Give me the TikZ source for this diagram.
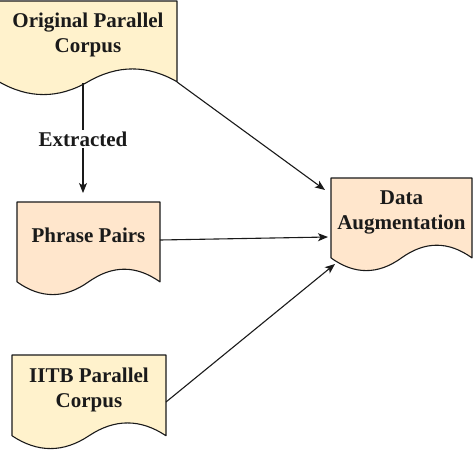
\documentclass[tikz,border=0pt]{standalone}
\usepackage{fontspec}
\setmainfont{Liberation Serif}
\usetikzlibrary{arrows.meta,calc}
\definecolor{docyellow}{HTML}{FFF2CC}
\definecolor{docpeach}{HTML}{FFE6CC}
\definecolor{inkc}{HTML}{1A1A1A}
\tikzset{
  docline/.style={draw=inkc, line width=1.1pt, line join=round},
  doctext/.style={inner sep=0pt, align=center, text=inkc,
    font=\fontsize{21}{24.5}\selectfont\bfseries},
  arr/.style={draw=inkc, line width=1.1pt,
    -{Stealth[length=10pt,width=8pt,inset=2.5pt]}},
  lbl/.style={fill=white, inner sep=2pt, text=inkc,
    font=\fontsize{21}{24.5}\selectfont\bfseries}
}
% #1 x0, #2 y0, #3 w, #4 h, #5 fill
\newcommand\mydocshape[5]{%
  \filldraw[docline, fill=#5]
    (#1,#2) -- ({#1+#3},#2) -- ({#1+#3},{#2+0.85*#4})
    .. controls ({#1+0.8333*#3},{#2+0.67*#4}) and ({#1+0.6667*#3},{#2+0.67*#4})
    .. ({#1+0.5*#3},{#2+0.85*#4})
    .. controls ({#1+0.3333*#3},{#2+1.03*#4}) and ({#1+0.1667*#3},{#2+1.03*#4})
    .. (#1,{#2+0.85*#4}) -- cycle;}
\begin{document}
\begin{tikzpicture}[x=1pt,y=-1pt]
  \useasboundingbox[fill=white] (0,0) rectangle (474,475);
  % shapes
  \mydocshape{-1}{1}{178}{95}{docyellow}
  \mydocshape{17}{202}{143}{94}{docpeach}
  \mydocshape{12}{355}{154}{95}{docyellow}
  \mydocshape{331}{178}{141}{94}{docpeach}
  % texts
  \node[doctext] (orig) at (88,35) {Original Parallel\\Corpus};
  \node[doctext] (phrase) at (88.5,235) {Phrase Pairs};
  \node[doctext] (iitb) at (89,390) {IITB Parallel\\Corpus};
  \node[doctext] (data) at (401.5,212.5) {Data\\Augmentation};
  % connectors
  \draw[arr] ($(orig)+(-5,48)$) -- node[lbl, pos=0.51] {Extracted} ($(phrase)+(-5.5,-42)$);
  \draw[arr] ($(orig)+(89,47)$) -- ($(data)+(-76.5,-22.5)$);
  \draw[arr] ($(phrase)+(71.5,5)$) -- ($(data)+(-73.5,24.5)$);
  \draw[arr] ($(iitb)+(77,12)$) -- ($(data)+(-66.5,51.5)$);
\end{tikzpicture}
\end{document}
